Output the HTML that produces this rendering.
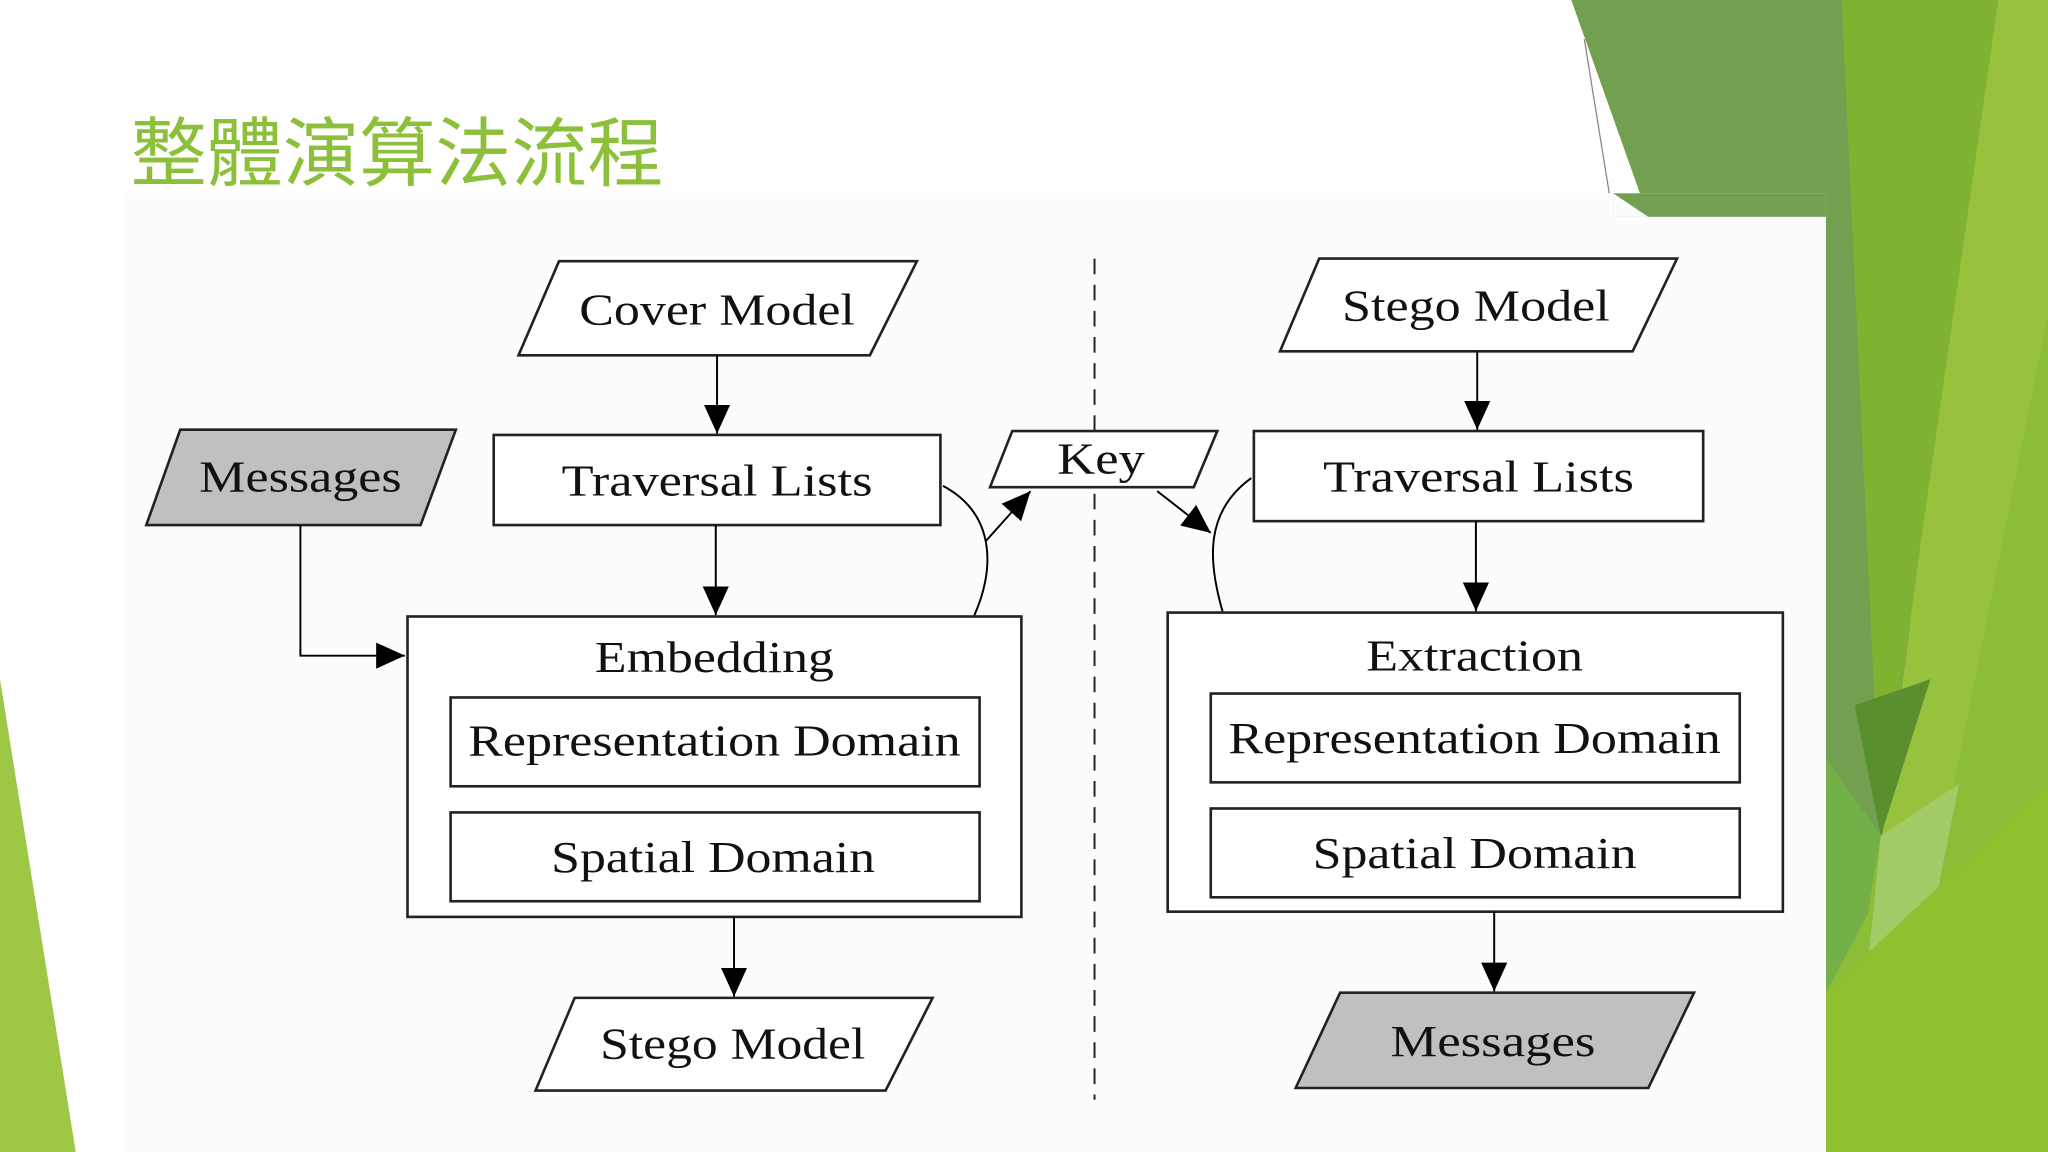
<!DOCTYPE html>
<html><head><meta charset="utf-8"><style>
html,body{margin:0;padding:0;background:#fff;}
svg{display:block;}
.t{font-family:"Liberation Serif",serif;font-size:34px;fill:#111;text-anchor:middle;dominant-baseline:central;}
</style></head><body>
<svg width="2048" height="1152" viewBox="0 0 1568 882" xmlns="http://www.w3.org/2000/svg">
<defs><marker id="a" viewBox="0 0 10 10" refX="10" refY="5" markerWidth="10" markerHeight="10" markerUnits="userSpaceOnUse" orient="auto"><path d="M0,0 L10,5 L0,10 z" fill="#000"/></marker>
<marker id="b" viewBox="0 0 22 20" refX="22" refY="10" markerWidth="22" markerHeight="20" markerUnits="userSpaceOnUse" orient="auto"><path d="M0,0 L22,10 L0,20 z" fill="#000"/></marker></defs>
<rect width="1568" height="882" fill="#fff"/>
<!-- right decoration -->
<polygon points="1398,0 1568,0 1568,882 1398,882" fill="#8bbd36"/>
<polygon points="1203,0 1420,0 1478,650 1440,640 1398,590 1398,166 1262,166" fill="#73a050"/>
<polygon points="1410,0 1530,0 1470,420 1440,640" fill="#80b232"/>
<polygon points="1530,0 1568,0 1568,240 1480,680 1440,650 1470,420" fill="#96c23e"/>
<polygon points="1398,580 1440,640 1430,700 1398,760" fill="#74b048"/>
<polygon points="1420,540 1478,520 1440,640" fill="#5a8f2e"/>
<polygon points="1440,640 1500,600 1480,700 1430,740" fill="#a2cc68"/>
<polygon points="1398,760 1568,600 1568,882 1398,882" fill="#8fc030"/>
<line x1="1213" y1="30" x2="1235" y2="166" stroke="#888" stroke-width="1"/>
<!-- left triangle -->
<polygon points="0,520 0,882 58,882" fill="#9dc745"/>
<!-- panel -->
<rect x="95" y="148" width="1303" height="734" fill="#fcfbfd"/>
<rect x="1235" y="148" width="163" height="18" fill="#73a050"/>
<polygon points="1235,148 1262,166 1235,166" fill="#fcfbfd"/>
<!-- title -->
<text x="100" y="138" font-family="'Liberation Sans','Noto Sans CJK TC',sans-serif" font-size="58" fill="#8dc03a" textLength="408" lengthAdjust="spacingAndGlyphs">整體演算法流程</text>
<g stroke="#222" stroke-width="2" fill="#fff">
<line x1="838" y1="198" x2="838" y2="842" stroke-dasharray="12,8" stroke-width="1.5"/>
<polygon points="397,272 428,200 702,200 666,272"/>
<rect x="378" y="333" width="342" height="69"/>
<polygon points="112,402 138,329 349,329 322,402" fill="#c0c0c2"/>
<rect x="312" y="472" width="470" height="230"/>
<rect x="345" y="534" width="405" height="68"/>
<rect x="345" y="622" width="405" height="68"/>
<polygon points="410,835 440,764 714,764 678,835"/>
<polygon points="758,373 775,330 932,330 914,373"/>
<polygon points="980,269 1010,198 1284,198 1250,269"/>
<rect x="960" y="330" width="344" height="69"/>
<rect x="894" y="469" width="471" height="229"/>
<rect x="927" y="531" width="405" height="68"/>
<rect x="927" y="619" width="405" height="68"/>
<polygon points="992,833 1026,760 1297,760 1262,833" fill="#c0c0c2"/>
<g fill="none" stroke="#000" stroke-width="1.5">
<line x1="549" y1="272" x2="549" y2="332" marker-end="url(#b)"/>
<line x1="548" y1="402" x2="548" y2="471" marker-end="url(#b)"/>
<polyline points="230,402 230,502 310,502" marker-end="url(#b)"/>
<line x1="562" y1="702" x2="562" y2="763" marker-end="url(#b)"/>
<line x1="1131" y1="269" x2="1131" y2="329" marker-end="url(#b)"/>
<line x1="1130" y1="399" x2="1130" y2="468" marker-end="url(#b)"/>
<line x1="1144" y1="698" x2="1144" y2="759" marker-end="url(#b)"/>
<path d="M722,372 C765,395 760,440 746,471"/>
<line x1="755" y1="414" x2="789" y2="376" marker-end="url(#b)"/>
<line x1="886" y1="376" x2="927" y2="408" marker-end="url(#b)"/>
<path d="M958,366 C922,392 925,430 936,468"/>
</g>
</g>
<text class="t" x="549" y="237" textLength="211" lengthAdjust="spacingAndGlyphs">Cover Model</text>
<text class="t" x="549" y="368" textLength="238" lengthAdjust="spacingAndGlyphs">Traversal Lists</text>
<text class="t" x="230" y="365" textLength="155" lengthAdjust="spacingAndGlyphs">Messages</text>
<text class="t" x="547" y="503" textLength="183" lengthAdjust="spacingAndGlyphs">Embedding</text>
<text class="t" x="547" y="567" textLength="377" lengthAdjust="spacingAndGlyphs">Representation Domain</text>
<text class="t" x="546" y="656" textLength="248" lengthAdjust="spacingAndGlyphs">Spatial Domain</text>
<text class="t" x="561" y="799" textLength="203" lengthAdjust="spacingAndGlyphs">Stego Model</text>
<text class="t" x="843" y="351" textLength="67" lengthAdjust="spacingAndGlyphs">Key</text>
<text class="t" x="1130" y="234" textLength="205" lengthAdjust="spacingAndGlyphs">Stego Model</text>
<text class="t" x="1132" y="365" textLength="238" lengthAdjust="spacingAndGlyphs">Traversal Lists</text>
<text class="t" x="1129" y="502" textLength="166" lengthAdjust="spacingAndGlyphs">Extraction</text>
<text class="t" x="1129" y="565" textLength="377" lengthAdjust="spacingAndGlyphs">Representation Domain</text>
<text class="t" x="1129" y="653" textLength="248" lengthAdjust="spacingAndGlyphs">Spatial Domain</text>
<text class="t" x="1143" y="797" textLength="157" lengthAdjust="spacingAndGlyphs">Messages</text>
</svg>
</body></html>
